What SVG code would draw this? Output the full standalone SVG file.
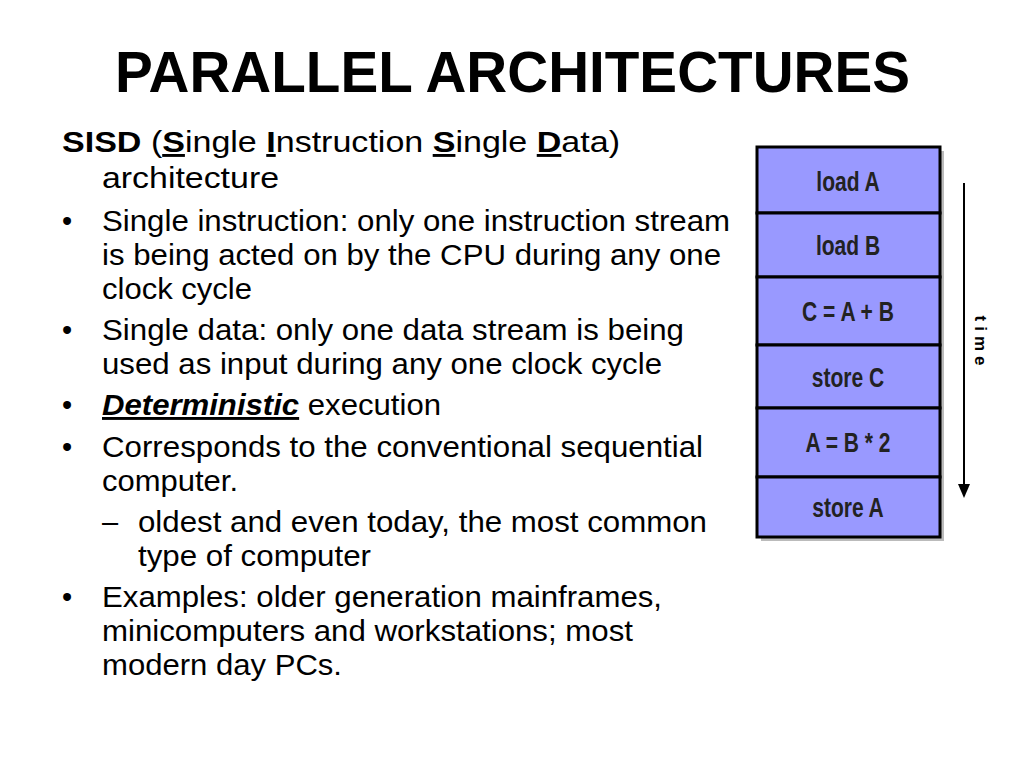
<svg xmlns="http://www.w3.org/2000/svg" width="1024" height="768" viewBox="0 0 1024 768">
<style>
.t{font-family:"Liberation Sans",Arial,sans-serif;font-size:29px;fill:#000}
.b{font-weight:bold}
.box{fill:#9999ff;stroke:#000;stroke-width:3}
.bl{font-family:"Liberation Sans",Arial,sans-serif;font-size:28px;font-weight:bold;fill:#222;text-anchor:middle}
</style>
<rect width="1024" height="768" fill="#fff"/>
<text x="115" y="92" textLength="795" lengthAdjust="spacingAndGlyphs" font-family="Liberation Sans,Arial,sans-serif" font-size="57" font-weight="bold">PARALLEL ARCHITECTURES</text>
<g id="text">
<text class="t" x="62" y="152" textLength="558" lengthAdjust="spacingAndGlyphs"><tspan class="b">SISD</tspan> (<tspan class="b" text-decoration="underline">S</tspan>ingle <tspan class="b" text-decoration="underline">I</tspan>nstruction <tspan class="b" text-decoration="underline">S</tspan>ingle <tspan class="b" text-decoration="underline">D</tspan>ata)</text>
<text class="t" x="102" y="188" textLength="177" lengthAdjust="spacingAndGlyphs">architecture</text>
<text class="t" x="62" y="231">•</text><text class="t" x="102" y="231" textLength="628" lengthAdjust="spacingAndGlyphs">Single instruction: only one instruction stream</text>
<text class="t" x="102" y="265" textLength="619" lengthAdjust="spacingAndGlyphs">is being acted on by the CPU during any one</text>
<text class="t" x="102" y="299" textLength="150" lengthAdjust="spacingAndGlyphs">clock cycle</text>
<text class="t" x="62" y="340">•</text><text class="t" x="102" y="340" textLength="582" lengthAdjust="spacingAndGlyphs">Single data: only one data stream is being</text>
<text class="t" x="102" y="374" textLength="560" lengthAdjust="spacingAndGlyphs">used as input during any one clock cycle</text>
<text class="t" x="62" y="415">•</text><text class="t" x="102" y="415" textLength="339" lengthAdjust="spacingAndGlyphs"><tspan class="b" font-style="italic" text-decoration="underline">Deterministic</tspan> execution</text>
<text class="t" x="62" y="457">•</text><text class="t" x="102" y="457" textLength="601" lengthAdjust="spacingAndGlyphs">Corresponds to the conventional sequential</text>
<text class="t" x="102" y="491" textLength="136" lengthAdjust="spacingAndGlyphs">computer.</text>
<text class="t" x="102" y="532">–</text><text class="t" x="138" y="532" textLength="569" lengthAdjust="spacingAndGlyphs">oldest and even today, the most common</text>
<text class="t" x="138" y="566" textLength="233" lengthAdjust="spacingAndGlyphs">type of computer</text>
<text class="t" x="62" y="607">•</text><text class="t" x="102" y="607" textLength="560" lengthAdjust="spacingAndGlyphs">Examples: older generation mainframes,</text>
<text class="t" x="102" y="641" textLength="531" lengthAdjust="spacingAndGlyphs">minicomputers and workstations; most</text>
<text class="t" x="102" y="675" textLength="240" lengthAdjust="spacingAndGlyphs">modern day PCs.</text>
</g>
<rect x="761" y="151" width="183" height="390" fill="#777" opacity="0.5"/>
<g id="n1"><rect class="box" x="757" y="147" width="183" height="66"/><text class="bl" x="848" y="191" transform="translate(848 0) scale(0.75 1) translate(-848 0)">load A</text></g>
<g id="n2"><rect class="box" x="757" y="213" width="183" height="64"/><text class="bl" x="848" y="255" transform="translate(848 0) scale(0.75 1) translate(-848 0)">load B</text></g>
<g id="n3"><rect class="box" x="757" y="277" width="183" height="68"/><text class="bl" x="848" y="321" transform="translate(848 0) scale(0.75 1) translate(-848 0)">C = A + B</text></g>
<g id="n4"><rect class="box" x="757" y="345" width="183" height="63"/><text class="bl" x="848" y="387" transform="translate(848 0) scale(0.75 1) translate(-848 0)">store C</text></g>
<g id="n5"><rect class="box" x="757" y="408" width="183" height="69"/><text class="bl" x="848" y="452" transform="translate(848 0) scale(0.75 1) translate(-848 0)">A = B * 2</text></g>
<g id="n6"><rect class="box" x="757" y="477" width="183" height="60"/><text class="bl" x="848" y="517" transform="translate(848 0) scale(0.75 1) translate(-848 0)">store A</text></g>
<g id="connectors">
<line x1="964" y1="183" x2="964" y2="485" stroke="#000" stroke-width="2"/>
<path d="M958,484 L970,484 L964,498 Z" fill="#000"/>
</g>
<text x="0" y="0" transform="translate(975 343) rotate(90)" text-anchor="middle" font-family="Liberation Sans,Arial,sans-serif" font-size="17" font-weight="bold" letter-spacing="5">time</text>
</svg>
